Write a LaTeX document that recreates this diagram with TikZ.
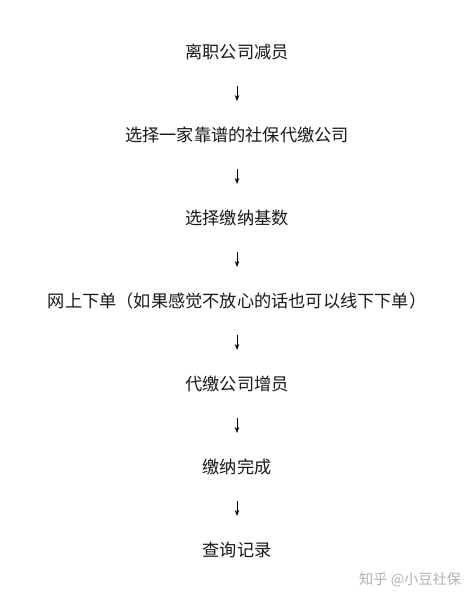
\documentclass[tikz,border=0pt]{standalone}
\usepackage{fontspec}
\newfontfamily\cjk{Noto Sans CJK SC}
\usetikzlibrary{arrows.meta}
\begin{document}
\begin{tikzpicture}[x=1pt,y=1pt,
  stepbox/.style={inner sep=0pt,font=\cjk\fontsize{17.2}{19}\selectfont,text=black!90},
  arr/.style={-{Stealth[length=6pt,width=4.5pt]},line width=0.8pt,shorten <=34pt,shorten >=34pt},
  wmark/.style={inner sep=0pt,font=\cjk\fontsize{14.2}{16}\selectfont,text=black!30}]
\useasboundingbox (0,0) rectangle (475,601);
\fill[white] (0,0) rectangle (475,601);
\node[stepbox] (s1) at (237,549) {离职公司减员};
\node[stepbox] (s2) at (237,466) {选择一家靠谱的社保代缴公司};
\node[stepbox] (s3) at (237,383) {选择缴纳基数};
\node[stepbox] (s4) at (237,300) {网上下单（如果感觉不放心的话也可以线下下单）};
\node[stepbox] (s5) at (237,217) {代缴公司增员};
\node[stepbox] (s6) at (237,134) {缴纳完成};
\node[stepbox] (s7) at (237,51) {查询记录};
\foreach \a/\b in {s1/s2,s2/s3,s3/s4,s4/s5,s5/s6,s6/s7}
  \draw[arr] (\a.center) -- (\b.center);
\node[wmark,anchor=west] (wm) at (359,21) {知乎 @小豆社保};
\end{tikzpicture}
\end{document}
